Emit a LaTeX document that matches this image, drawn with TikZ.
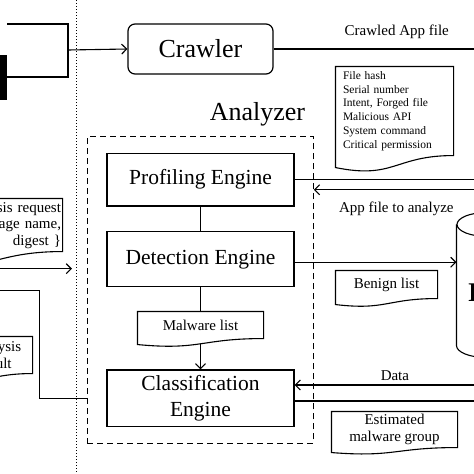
\documentclass[tikz,border=0pt]{standalone}
\usepackage{fontspec}
\setmainfont{Liberation Serif}
\usetikzlibrary{arrows.meta,positioning,calc}

\tikzset{
  engine/.style={draw, line width=1.2pt, minimum width=187pt, align=center,
    font=\fontsize{21.5}{26}\selectfont},
  doc/.style={inner sep=2pt, align=center, font=\fontsize{15}{17}\selectfont},
  lbl/.style={font=\fontsize{15}{17}\selectfont},
  arr/.style={-{Straight Barb[length=5pt,width=10pt]}},
}

\begin{document}
\begin{tikzpicture}[x=1pt, y=-1pt, line width=1.1pt]
    \useasboundingbox (0,0) rectangle (474,474);
    \clip (0,0) rectangle (474,474);

    % Boundary between user side and server side
    \draw[dotted, line width=1pt] (76,0) -- (76,474);

    % Crawler
    \node[draw, rounded corners=7pt, line width=1.2pt, minimum width=145pt, minimum height=50pt,
      font=\fontsize{26}{30}\selectfont] (crawler) at (200.5,49) {Crawler};
    \coordinate (rightedge) at (520,0);
    \draw (crawler.east) -- (crawler.east -| rightedge)
      node[lbl, above=6pt, pos=0.5] {Crawled App file};

    % App sources (left, cut off)
    \fill (0,55) rectangle (7,100);
    \coordinate (srctop) at (7,24);
    \coordinate (srcbot) at (7,77);
    \coordinate (merge) at (68,50);
    \draw (srctop) -| (merge) |- (srcbot);
    \draw[arr] (merge) -- (crawler.west);

    % Extracted features
    \node[doc, font=\fontsize{11.5}{13.8}\selectfont, align=left, text width=103pt, inner xsep=7pt,
      minimum height=88pt] (feat) at (394.5,111)
      {File hash\\Serial number\\Intent, Forged file\\Malicious API\\System command\\Critical permission};

    % Analyzer
    \node[font=\fontsize{26}{30}\selectfont] (anlabel) at (257.5,114) {Analyzer};
    \node[draw, dashed, dash pattern=on 6pt off 4pt, minimum width=226pt, minimum height=306.6pt]
      (analyzer) at (200.3,290) {};

    \node[engine, minimum height=52.7pt] (profiling) at (200.5,179.7) {Profiling Engine};
    \node[engine, minimum height=55pt] (detection) at (200.5,259.2) {Detection Engine};
    \node[doc, minimum width=125pt, minimum height=26pt] (mallist) at (200.5,325) {Malware list};
    \node[engine, minimum height=56.7pt] (classification) at (200.5,398.3) {Classification\\Engine};

    \draw (profiling) -- (detection);
    \draw (detection) -- (mallist);
    \draw[arr] ([yshift=-5pt]mallist.south) -- (classification);

    % Database
    \node[minimum width=60pt, minimum height=144pt, text height=32pt, text depth=0pt,
      font=\fontsize{27}{30}\selectfont\bfseries] (db) at (487,285) {DB};
    \draw ([yshift=-12pt]db.north) ellipse [x radius=30pt, y radius=12pt];
    \draw ([yshift=-12pt]db.north west) -- ([yshift=12pt]db.south west)
      arc[start angle=180, end angle=360, x radius=30pt, y radius=12pt]
      -- ([yshift=-12pt]db.north east);

    % Right side flows
    \draw (profiling.east) -- (profiling.east -| rightedge);
    \draw[arr] ([yshift=-10pt]profiling.east -| rightedge) -- ([yshift=-10pt]profiling.east -| analyzer.east)
      node[lbl, below=8pt, pos=0.6] {App file to analyze};
    \draw[arr] ([yshift=-3pt]detection.east) -- ([yshift=-3pt]detection.east -| db.west);
    \node[doc, minimum width=101pt, minimum height=27pt] (benign) at (386.5,284.5) {Benign list};
    \draw[arr] ([yshift=13.3pt]classification.east -| rightedge) -- ([yshift=13.3pt]classification.east)
      node[lbl, above, pos=0.555] {Data};
    \draw ([yshift=-2.7pt]classification.east) -- ([yshift=-2.7pt]classification.east -| rightedge);
    \node[doc, minimum width=125pt, minimum height=35pt] (est) at (394.5,429.5) {Estimated\\malware group};

    % Left side (user)
    \node[doc, align=right, text width=138pt, inner xsep=1pt, minimum height=52pt,
      font=\fontsize{15}{16.5}\selectfont] (req) at (-8,225)
      {Analysis request\\\{ package name,\hspace*{7pt}\\digest \}\hspace*{18pt}};
    \coordinate (reqtip) at (72,268.7);
    \draw[arr] (reqtip -| req.west) -- (reqtip);

    \node[doc, minimum width=74pt, minimum height=36pt] (res) at (-5,355) {Analysis\\result};
    \coordinate (resbend) at (39.5,290.7);
    \draw (analyzer.west |- classification) -| (resbend) -- (resbend -| res.west);

    % Document outlines with wavy bottom
    \foreach \n/\r in {feat/12, mallist/6, benign/6, est/5, req/11, res/4}
      \draw (\n.north west) -- (\n.north east) -- (\n.south east)
        .. controls (\n.south) and ([yshift=-\r*2pt]\n.south) .. ([yshift=-\r pt]\n.south west) -- cycle;
\end{tikzpicture}
\end{document}
